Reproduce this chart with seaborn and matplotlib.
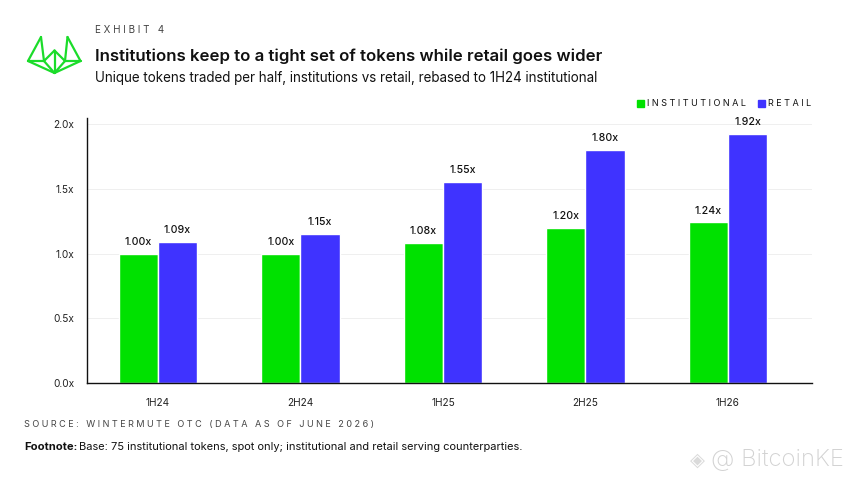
import matplotlib
matplotlib.use("Agg")
import matplotlib.pyplot as plt
import seaborn as sns
import pandas as pd
from matplotlib.lines import Line2D
from matplotlib.patches import Rectangle

periods = ["1H24", "2H24", "1H25", "2H25", "1H26"]
institutional = [1.00, 1.00, 1.08, 1.20, 1.24]
retail = [1.09, 1.15, 1.55, 1.80, 1.92]
series_names = ["INSTITUTIONAL", "RETAIL"]
y_ticks = [0.0, 0.5, 1.0, 1.5, 2.0]
y_tick_labels = ["0.0x", "0.5x", "1.0x", "1.5x", "2.0x"]

GREEN = "#00e100"
BLUE = "#3f33ff"

df = pd.DataFrame({
    "period": periods * 2,
    "value": institutional + retail,
    "series": [series_names[0]] * len(periods) + [series_names[1]] * len(periods),
})

sns.set_theme(style="white")
plt.rcParams["font.family"] = ["Inter", "DejaVu Sans"]

W, H = 847, 484
fig = plt.figure(figsize=(W / 100, H / 100), dpi=100)
fig.patch.set_facecolor("white")

def fx(x):
    return x / W

def fy(y):
    return 1 - y / H

ax = fig.add_axes([fx(86.7), fy(383.3), fx(812) - fx(86.7), fy(118.3) - fy(383.3)])
sns.barplot(data=df, x="period", y="value", hue="series", order=periods,
            hue_order=series_names, palette=[GREEN, BLUE], width=0.55,
            saturation=1, gap=0, ax=ax, legend=False)

ax.set_xlim(-0.5, 4.59)
ax.set_ylim(0, 2.043)
ax.set_yticks(y_ticks)
ax.set_yticklabels(y_tick_labels)
ax.set_xlabel("")
ax.set_ylabel("")
ax.tick_params(axis="both", length=0, labelsize=7.3, colors="#222222")
ax.tick_params(axis="x", pad=10.5)
ax.tick_params(axis="y", pad=9)
ax.grid(axis="y", color="#ececec", linewidth=0.6)
ax.set_axisbelow(True)
for s in ["top", "right"]:
    ax.spines[s].set_visible(False)
for s in ["left", "bottom"]:
    ax.spines[s].set_color("#111111")
    ax.spines[s].set_linewidth(1.0)

for cont in ax.containers:
    ax.bar_label(cont, labels=[f"{v:.2f}x" for v in cont.datavalues],
                 padding=5, fontsize=7.6, fontweight="medium", color="#111111")

# Header
fig.text(fx(95), fy(30), "E X H I B I T   4", fontsize=7.1, color="#444444",
         va="center", ha="left")
fig.text(fx(94.5), fy(56), "Institutions keep to a tight set of tokens while retail goes wider",
         fontsize=12.1, fontweight="semibold", color="#111111", va="center", ha="left")
fig.text(fx(95), fy(78), "Unique tokens traded per half, institutions vs retail, rebased to 1H24 institutional",
         fontsize=9.65, color="#111111", va="center", ha="left")

# Logo
pts = {
    "lp": (41, 37), "lo": (28, 61), "li": (44, 61),
    "ct": (54.5, 50.5), "cb": (54.5, 73),
    "rp": (67.5, 37), "ro": (80.5, 61), "ri": (65, 61),
}
segs = [("lp", "lo"), ("lp", "li"), ("lo", "li"), ("lo", "cb"), ("li", "ct"),
        ("li", "cb"), ("ct", "cb"), ("ct", "ri"), ("ri", "cb"), ("rp", "ro"),
        ("rp", "ri"), ("ro", "ri"), ("ro", "cb")]
for a, b in segs:
    (x1, y1), (x2, y2) = pts[a], pts[b]
    fig.add_artist(Line2D([fx(x1), fx(x2)], [fy(y1), fy(y2)], color="#1bdc2a",
                          linewidth=1.6, solid_capstyle="round", solid_joinstyle="round"))

# Legend
leg_items = [(637, GREEN, "I N S T I T U T I O N A L"), (758, BLUE, "R E T A I L")]
for x0, c, lab in leg_items:
    fig.add_artist(Rectangle((fx(x0), fy(107)), fx(7), 7 / H, color=c, transform=fig.transFigure))
    fig.text(fx(x0 + 10), fy(103.5), lab, fontsize=6.55, color="#111111", va="center", ha="left")

# Footer
fig.text(fx(24), fy(424), "S O U R C E :   W I N T E R M U T E   O T C   ( D A T A   A S   O F   J U N E   2 0 2 6 )",
         fontsize=6.55, color="#444444", va="center", ha="left")
t1 = fig.text(fx(24), fy(447), "Footnote:", fontsize=8.05, fontweight="bold", color="#111111",
              va="center", ha="left")
fig.canvas.draw()
bb = t1.get_window_extent()
fig.text(bb.x1 / W + fx(2), fy(447), "Base: 75 institutional tokens, spot only; institutional and retail serving counterparties.",
         fontsize=7.95, color="#111111", va="center", ha="left")
fig.text(fx(711), fy(460), "@ BitcoinKE", fontsize=17.2, fontweight="light", color="#d2d2d2",
         va="center", ha="left")
fig.text(fx(697), fy(460), "\u25c8", fontsize=14, color="#dadada", va="center", ha="center",
         family=["DejaVu Sans"])

fig.savefig("out.png", dpi=100, facecolor="white")
